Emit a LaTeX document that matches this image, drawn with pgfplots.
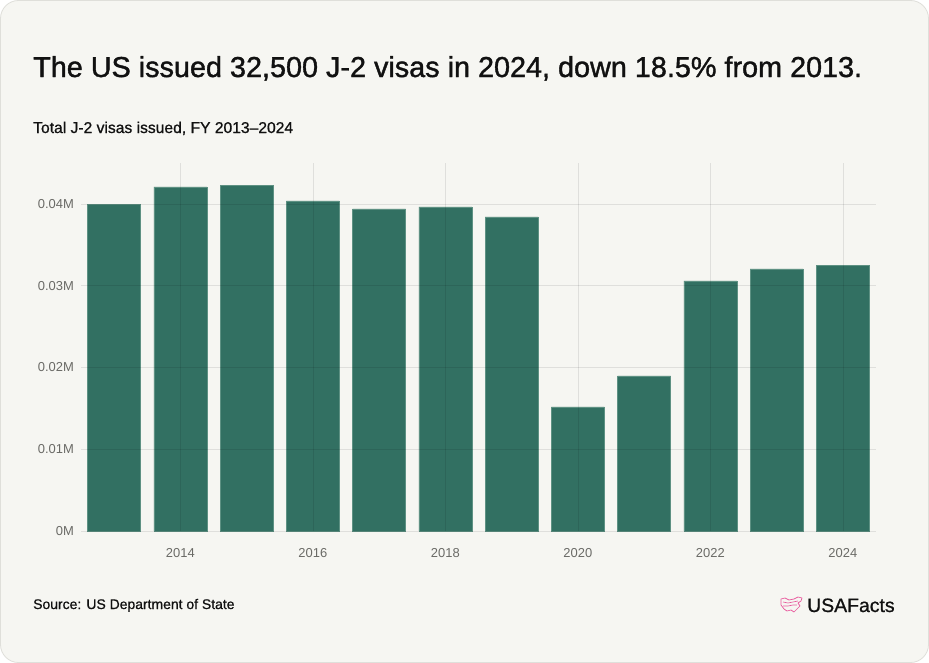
\documentclass[border=0pt]{standalone}
\usepackage{pgfplots}
\pgfplotsset{compat=1.18}
\usepackage{fontspec}
\setmainfont{Liberation Sans}
\newfontfamily\heavy[FakeBold=1.3, Ligatures=TeX]{Liberation Sans}
\newfontfamily\semiheavy[FakeBold=0.8, Ligatures=TeX]{Liberation Sans}
\definecolor{cardbg}{HTML}{F6F6F2}
\definecolor{cardline}{HTML}{DFDFDA}
\definecolor{barfill}{HTML}{327062}
\definecolor{baredge}{HTML}{5E9183}
\definecolor{ticktext}{HTML}{6A6A66}
\definecolor{logopink}{HTML}{E8589C}
\definecolor{ink}{HTML}{111111}

\begin{document}
\begin{tikzpicture}
% card
\fill[white] (0bp,0bp) rectangle (929bp,-663bp);
\filldraw[fill=cardbg, draw=cardline, line width=0.8bp, rounded corners=18bp]
  (0.5bp,-0.5bp) rectangle (928.5bp,-662.5bp);

% headings
\node[anchor=base west, inner sep=0, text=ink, font=\heavy\fontsize{28.9}{32}\selectfont]
  at (33bp,-77bp) {The US issued 32,500 J-2 visas in 2024, down 18.5\% from 2013.};
\node[anchor=base west, inner sep=0, text=ink, font=\semiheavy\fontsize{15.7}{18}\selectfont]
  at (33bp,-133bp) {Total J-2 visas issued, FY 2013–2024};

\begin{axis}[
  at={(81bp,-531bp)}, anchor=south west,
  scale only axis, width=795bp, height=368bp,
  xmin=2012.5, xmax=2024.5,
  ymin=0, ymax=45000,
  scaled y ticks=false,
  axis line style={draw=none},
  major tick length=0pt,
  xtick={2014,2016,2018,2020,2022,2024},
  xticklabels={2014,2016,2018,2020,2022,2024},
  ytick={0,10000,20000,30000,40000},
  yticklabels={0M,0.01M,0.02M,0.03M,0.04M},
  tick label style={text=ticktext, font=\fontsize{13}{15}\selectfont, inner sep=0pt},
  xticklabel style={anchor=base, yshift=-26bp},
  yticklabel style={anchor=east, xshift=-7bp},
  grid=major,
  grid style={black, opacity=0.09, line width=0.7bp},
  axis on top,
  ybar, bar width=0.8,
  clip=false,
]
\addplot[fill=barfill, draw=baredge, line width=0.6bp] coordinates {
  (2013,39900) (2014,42080) (2015,42300) (2016,40370)
  (2017,39390) (2018,39630) (2019,38410) (2020,15170)
  (2021,18960) (2022,30580) (2023,32050) (2024,32500)
};
\end{axis}

% source line
\node[anchor=base west, inner sep=0, text=ink, font=\semiheavy\fontsize{14}{17}\selectfont]
  at (33bp,-609bp) {Source: US Department of State};

% logo mark: small outline map
\begin{scope}[x=1bp, y=1bp]
\draw[logopink, line width=0.7bp, line join=round]
  (781,-599) -- (785,-598) -- (789,-600) -- (794,-599) -- (798,-597) -- (802,-598)
  -- (801,-601) -- (798,-603) -- (800,-606) -- (797,-609) -- (794,-612) -- (791,-610)
  -- (787,-611) -- (784,-609) -- (781,-605) -- cycle;
\draw[logopink, line width=0.6bp, line join=round]
  (783,-602) -- (788,-603) -- (793,-602) -- (798,-601);
\draw[logopink, line width=0.6bp, line join=round]
  (783,-606) -- (788,-606) -- (793,-605) -- (797,-605);
\end{scope}
\node[anchor=base west, inner sep=0, text=ink, font=\semiheavy\fontsize{19.5}{21}\selectfont]
  at (807bp,-612bp) {USAFacts};
\end{tikzpicture}
\end{document}
